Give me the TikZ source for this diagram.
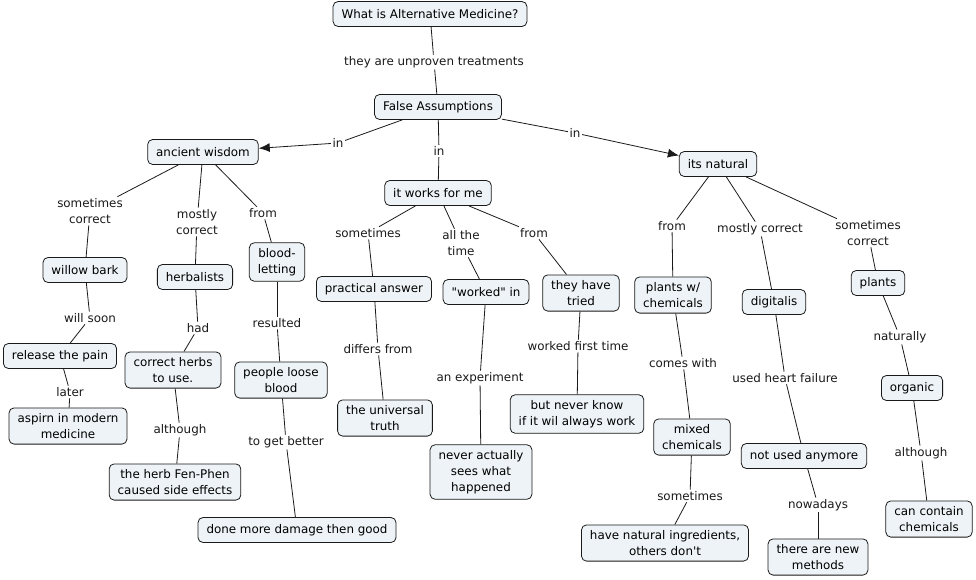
\documentclass[tikz,border=0pt]{standalone}
\usepackage{fontspec}
\setmainfont{DejaVu Sans}[Ligatures=TeXOff]
\usetikzlibrary{arrows.meta}
\definecolor{boxfill}{HTML}{EDF3F6}
\definecolor{ink}{HTML}{1A1A1A}
\begin{document}
\begin{tikzpicture}[x=1pt,y=-1pt,
  concept/.style={draw=ink,fill=boxfill,rounded corners=5pt,line width=0.8pt,align=center,
     font=\fontsize{11.9}{16}\selectfont,inner xsep=8.5pt,inner ysep=5.5pt,minimum height=25pt},
  lab/.style={align=center,font=\fontsize{11.9}{16}\selectfont,inner sep=1.5pt,fill=white,text=ink},
  link/.style={draw=ink,line width=0.8pt},
  arr/.style={link,-{Latex[length=11pt,width=9pt]}}]
\useasboundingbox (0,0) rectangle (976,579);
% concepts
\node[concept] (q) at (430,14) {What is Alternative Medicine?};
\node[concept] (fa) at (438,107) {False Assumptions};
\node[concept] (aw) at (203,152) {ancient wisdom};
\node[concept] (iw) at (438,193) {it works for me};
\node[concept] (nat) at (718,164) {its natural};
\node[concept] (wb) at (85,270) {willow bark};
\node[concept] (herb) at (195,277) {herbalists};
\node[concept] (blood) at (277,262) {blood-\\letting};
\node[concept] (rp) at (60,356) {release the pain};
\node[concept] (asp) at (68,426) {aspirn in modern\\medicine};
\node[concept] (ch) at (173,370) {correct herbs\\to use.};
\node[concept] (fen) at (175,482) {the herb Fen-Phen\\caused side effects};
\node[concept] (plb) at (281,380) {people loose\\blood};
\node[concept] (dmd) at (297,530) {done more damage then good};
\node[concept] (pa) at (374,289) {practical answer};
\node[concept] (wi) at (486,292) {"worked" in};
\node[concept] (tht) at (581,293) {they have\\tried};
\node[concept] (ut) at (385,418) {the universal\\truth};
\node[concept] (nev) at (481,472) {never actually\\sees what\\happened};
\node[concept] (bnk) at (577,414) {but never know\\if it wil always work};
\node[concept] (pwc) at (673,295) {plants w/\\chemicals};
\node[concept] (dig) at (774,302) {digitalis};
\node[concept] (pl) at (878,283) {plants};
\node[concept] (mc) at (692,437) {mixed\\chemicals};
\node[concept] (hni) at (665,543) {have natural ingredients,\\others don't};
\node[concept] (nua) at (804,456) {not used anymore};
\node[concept] (tanm) at (818,557) {there are new\\methods};
\node[concept] (org) at (912,388) {organic};
\node[concept] (ccc) at (929,519) {can contain\\chemicals};
% linking phrases
\node[lab] (l1) at (434,62) {they are unproven treatments};
\node[lab] (l2) at (338,143) {in};
\node[lab] (l3) at (439,151) {in};
\node[lab] (l4) at (575,133) {in};
\node[lab] (l5) at (90,211) {sometimes\\correct};
\node[lab] (l6) at (197,222) {mostly\\correct};
\node[lab] (l7) at (263,213) {from};
\node[lab] (l8) at (90,318) {will soon};
\node[lab] (l9) at (70,392) {later};
\node[lab] (l10) at (198,328) {had};
\node[lab] (l11) at (180,430) {although};
\node[lab] (l12) at (277,323) {resulted};
\node[lab] (l13) at (286,442) {to get better};
\node[lab] (l14) at (368,233) {sometimes};
\node[lab] (l15) at (461,243) {all the\\time};
\node[lab] (l16) at (534,233) {from};
\node[lab] (l17) at (378,349) {differs from};
\node[lab] (l18) at (480,378) {an experiment};
\node[lab] (l19) at (578,346) {worked first time};
\node[lab] (l20) at (672,226) {from};
\node[lab] (l21) at (760,229) {mostly correct};
\node[lab] (l22) at (868,233) {sometimes\\correct};
\node[lab] (l23) at (683,363) {comes with};
\node[lab] (l24) at (690,496) {sometimes};
\node[lab] (l25) at (785,378) {used heart failure};
\node[lab] (l26) at (818,505) {nowadays};
\node[lab] (l27) at (900,337) {naturally};
\node[lab] (l28) at (921,453) {although};
% connectors
\draw[link] (q) -- (l1); \draw[link] (l1) -- (fa);
\draw[link] (fa) -- (l2); \draw[arr] (l2) -- (aw);
\draw[link] (fa) -- (l3); \draw[link] (l3) -- (iw);
\draw[link] (fa) -- (l4); \draw[arr] (l4) -- (nat);
\draw[link] (aw) -- (l5); \draw[link] (l5) -- (wb);
\draw[link] (aw) -- (l6); \draw[link] (l6) -- (herb);
\draw[link] (aw) -- (l7); \draw[link] (l7) -- (blood);
\draw[link] (wb) -- (l8); \draw[link] (l8) -- (rp);
\draw[link] (rp) -- (l9); \draw[link] (l9) -- (asp);
\draw[link] (herb) -- (l10); \draw[link] (l10) -- (ch);
\draw[link] (ch) -- (l11); \draw[link] (l11) -- (fen);
\draw[link] (blood) -- (l12); \draw[link] (l12) -- (plb);
\draw[link] (plb) -- (l13); \draw[link] (l13) -- (dmd);
\draw[link] (iw) -- (l14); \draw[link] (l14) -- (pa);
\draw[link] (iw) -- (l15); \draw[link] (l15) -- (wi);
\draw[link] (iw) -- (l16); \draw[link] (l16) -- (tht);
\draw[link] (pa) -- (l17); \draw[link] (l17) -- (ut);
\draw[link] (wi) -- (l18); \draw[link] (l18) -- (nev);
\draw[link] (tht) -- (l19); \draw[link] (l19) -- (bnk);
\draw[link] (nat) -- (l20); \draw[link] (l20) -- (pwc);
\draw[link] (nat) -- (l21); \draw[link] (l21) -- (dig);
\draw[link] (nat) -- (l22); \draw[link] (l22) -- (pl);
\draw[link] (pwc) -- (l23); \draw[link] (l23) -- (mc);
\draw[link] (mc) -- (l24); \draw[link] (l24) -- (hni);
\draw[link] (dig) -- (l25); \draw[link] (l25) -- (nua);
\draw[link] (nua) -- (l26); \draw[link] (l26) -- (tanm);
\draw[link] (pl) -- (l27); \draw[link] (l27) -- (org);
\draw[link] (org) -- (l28); \draw[link] (l28) -- (ccc);
\end{tikzpicture}
\end{document}
